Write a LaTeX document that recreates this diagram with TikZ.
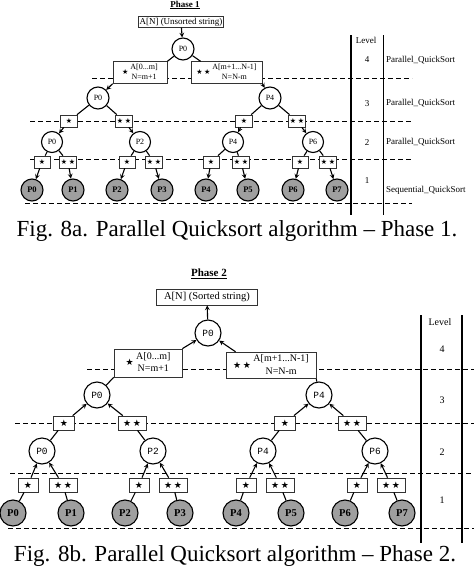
\documentclass[tikz,border=0pt]{standalone}
\usepackage{fontspec}
\setmainfont{Liberation Serif}
\newfontfamily\monofont{Liberation Mono}
\newfontfamily\symf{DejaVu Sans}
\usepackage{tikz}
\newcommand\stx[1]{{\symf\fontsize{#1}{#1}\selectfont ★}}

\begin{document}
\begin{tikzpicture}[x=1pt,y=-1pt,
    box/.style={draw=black!80,fill=white,line width=0.7pt,inner sep=1.2pt},
    proc/.style={draw,circle,fill=white,line width=1.1pt,inner sep=0pt},
    leaf/.style={proc,fill=gray!75},
    cutline/.style={dash pattern=on 5pt off 3pt,line width=1pt},
    link/.style={line width=1.1pt},
    down/.style={link,->,>=stealth}]
      \useasboundingbox (0,0) rectangle (474,568);
      % ---------- Phase 1 ----------
      \draw[cutline] (92,78) -- (412,78);
      \draw[cutline] (30,121) -- (413,121);
      \draw[cutline] (30,159) -- (412,159);
      \draw[cutline] (25,203) -- (412,203);
      \draw[line width=1.2pt] (351,35) -- (351,215);
      \draw[line width=0.8pt] (383,35) -- (383,215);
      \node[font=\fontsize{9}{10}\selectfont\bfseries] (t1) at (185,5) {\underline{Phase 1}};
      \node[box,font=\fontsize{9}{9}\selectfont] (a1) at (181,22) {A[N] (Unsorted string)};
      \node[proc,minimum size=22pt,font=\fontsize{8}{8}\selectfont] (r1) at (183,49) {P0};
      \node[box,inner sep=0.8pt,minimum width=54pt,minimum height=19pt,font=\fontsize{8}{10}\selectfont] (h1l) at (140,72.5)
        {\stx{7}\ \begin{tabular}{@{}c@{}}A[0...m]\\N=m+1\end{tabular}};
      \node[box,inner sep=0.8pt,minimum width=71pt,minimum height=19pt,font=\fontsize{8}{10}\selectfont] (h1r) at (226.5,72.5)
        {\stx{7}\,\stx{7}\ \begin{tabular}{@{}c@{}}A[m+1...N-1]\\N=N-m\end{tabular}};
      \foreach \n/\x/\t in {0/98/P0,1/270/P4}
      \node[proc,minimum size=22pt,font=\fontsize{8}{8}\selectfont] (c1-\n) at (\x,98) {\t};
      \foreach \n/\x/\k in {0/69/1,1/124/2,2/244/1,3/297/2}
      \node[box,minimum width=17pt,minimum height=12pt] (v1-\n) at (\x,121)
        {\ifnum\k=1 \stx{7}\else\stx{7}\,\stx{7}\fi};
      \foreach \n/\x/\t in {0/52/P0,1/140/P2,2/233/P4,3/313/P6}
      \node[proc,minimum size=21pt,font=\fontsize{8}{8}\selectfont] (e1-\n) at (\x,142) {\t};
      \foreach \n/\x/\k in {0/42/1,1/68/2,2/127/1,3/154/2,4/211/1,5/241/2,6/300/1,7/328/2}
      \node[box,minimum width=16pt,minimum height=12pt] (u1-\n) at (\x,162)
        {\ifnum\k=1 \stx{7}\else\stx{7}\,\stx{7}\fi};
      \foreach \n/\x in {0/32,1/73,2/117,3/162,4/206,5/248,6/293,7/337}
      \node[leaf,minimum size=22pt,font=\fontsize{8.5}{8.5}\selectfont\bfseries] (l1-\n) at (\x,190) {P\n};
      \draw[down] (a1) -- (r1);
      \draw[link] (r1) -- (h1l.north east);
      \draw[link] (r1) -- ([xshift=10pt]h1r.north west);
      \draw[down] (h1l.south west) -- (c1-0);
      \draw[down] (h1r.south east) -- (c1-1);
      \foreach \n in {0,...,3} {
        \pgfmathtruncatemacro\p{\n/2}
        \draw[link] (c1-\p) -- (v1-\n);
        \draw[down] (v1-\n) -- (e1-\n);
      }
      \foreach \n in {0,...,7} {
        \pgfmathtruncatemacro\p{\n/2}
        \draw[link] (e1-\p) -- (u1-\n);
        \draw[down] (u1-\n) -- (l1-\n);
      }
      \node[font=\fontsize{9}{9}\selectfont] (lv1) at (366,40) {Level};
      \foreach \n/\y in {4/60,3/104,2/143,1/181}
      \node[font=\fontsize{9}{9}\selectfont] (n1-\n) at (367,\y) {\n};
      \foreach \n/\y/\t in {4/60/Parallel\_QuickSort,3/103/Parallel\_QuickSort,
                            2/142/Parallel\_QuickSort,1/190/Sequential\_QuickSort}
      \node[font=\fontsize{9}{9}\selectfont,anchor=west,inner sep=1pt] (k1-\n) at (385,\y) {\t};
      \node[font=\fontsize{23}{24}\selectfont] (cap1) at (237,231) {Fig. 8a. Parallel Quicksort algorithm -- Phase 1.};
      % ---------- Phase 2 ----------
      \draw[cutline] (87,369) -- (474,369);
      \draw[cutline] (15,423) -- (474,423);
      \draw[cutline] (10,473) -- (474,473);
      \draw[cutline] (8,528) -- (474,528);
      \draw[line width=1.2pt] (421,315) -- (421,543);
      \draw[line width=1.2pt] (462,315) -- (462,543);
      \node[font=\fontsize{11}{12}\selectfont\bfseries] (t2) at (209,274) {\underline{Phase 2}};
      \node[box,minimum width=101pt,minimum height=16pt,font=\fontsize{10.5}{11}\selectfont] (a2) at (207,297) {A[N] (Sorted string)};
      \node[proc,minimum size=26pt,font=\fontsize{9.5}{10}\selectfont\monofont] (r2) at (208,333) {P0};
      \node[box,minimum width=68pt,minimum height=28pt,font=\fontsize{10}{12.5}\selectfont] (h2l) at (148,363)
        {\stx{9}\ \begin{tabular}{@{}c@{}}A[0...m]\\N=m+1\end{tabular}};
      \node[box,inner sep=0.8pt,minimum width=90pt,minimum height=25pt,font=\fontsize{10}{12.5}\selectfont] (h2r) at (271,365.5)
        {\stx{9}\,\stx{9}\ \begin{tabular}{@{}c@{}}A[m+1...N-1]\\N=N-m\end{tabular}};
      \foreach \n/\x/\t in {0/97/P0,1/319/P4}
      \node[proc,minimum size=26pt,font=\fontsize{9.5}{10}\selectfont\monofont] (c2-\n) at (\x,395) {\t};
      \foreach \n/\x/\k/\w in {0/64/1/21,1/132/2/28,2/285/1/21,3/352/2/28}
      \node[box,minimum width=\w pt,minimum height=14pt] (v2-\n) at (\x,423)
        {\ifnum\k=1 \stx{9}\else\stx{9}\,\stx{9}\fi};
      \foreach \n/\x/\t in {0/42/P0,1/153/P2,2/263/P4,3/375/P6}
      \node[proc,minimum size=26pt,font=\fontsize{9.5}{10}\selectfont\monofont] (e2-\n) at (\x,451) {\t};
      \foreach \n/\x/\k/\w in {0/28/1/20,1/63/2/28,2/139/1/20,3/173/2/28,4/246/1/20,5/280/2/28,6/357/1/20,7/391/2/28}
      \node[box,minimum width=\w pt,minimum height=14pt] (u2-\n) at (\x,485)
        {\ifnum\k=1 \stx{9}\else\stx{9}\,\stx{9}\fi};
      \foreach \n/\x in {0/13,1/71,2/125,3/180,4/236,5/291,6/345,7/402}
      \node[leaf,minimum size=26pt,font=\fontsize{10.5}{11}\selectfont\bfseries] (l2-\n) at (\x,513) {P\n};
      \draw[down] (r2) -- (a2);
      \draw[down] (h2l.north east) -- (r2);
      \draw[down] ([xshift=10pt]h2r.north west) -- (r2);
      \draw[link] (c2-0) -- (h2l.south west);
      \draw[link] (c2-1) -- (h2r.south east);
      \foreach \n in {0,...,3} {
        \pgfmathtruncatemacro\p{\n/2}
        \draw[down] (v2-\n) -- (c2-\p);
        \draw[link] (e2-\n) -- (v2-\n);
      }
      \foreach \n in {0,...,7} {
        \pgfmathtruncatemacro\p{\n/2}
        \draw[down] (u2-\n) -- (e2-\p);
        \draw[link] (l2-\n) -- (u2-\n);
      }
      \node[font=\fontsize{10}{10}\selectfont] (lv2) at (440,322) {Level};
      \foreach \n/\y in {4/349,3/400,2/452,1/500}
      \node[font=\fontsize{10}{10}\selectfont] (n2-\n) at (442,\y) {\n};
      \node[font=\fontsize{23}{24}\selectfont] (cap2) at (235,556) {Fig. 8b. Parallel Quicksort algorithm -- Phase 2.};
    \end{tikzpicture}
\end{document}
